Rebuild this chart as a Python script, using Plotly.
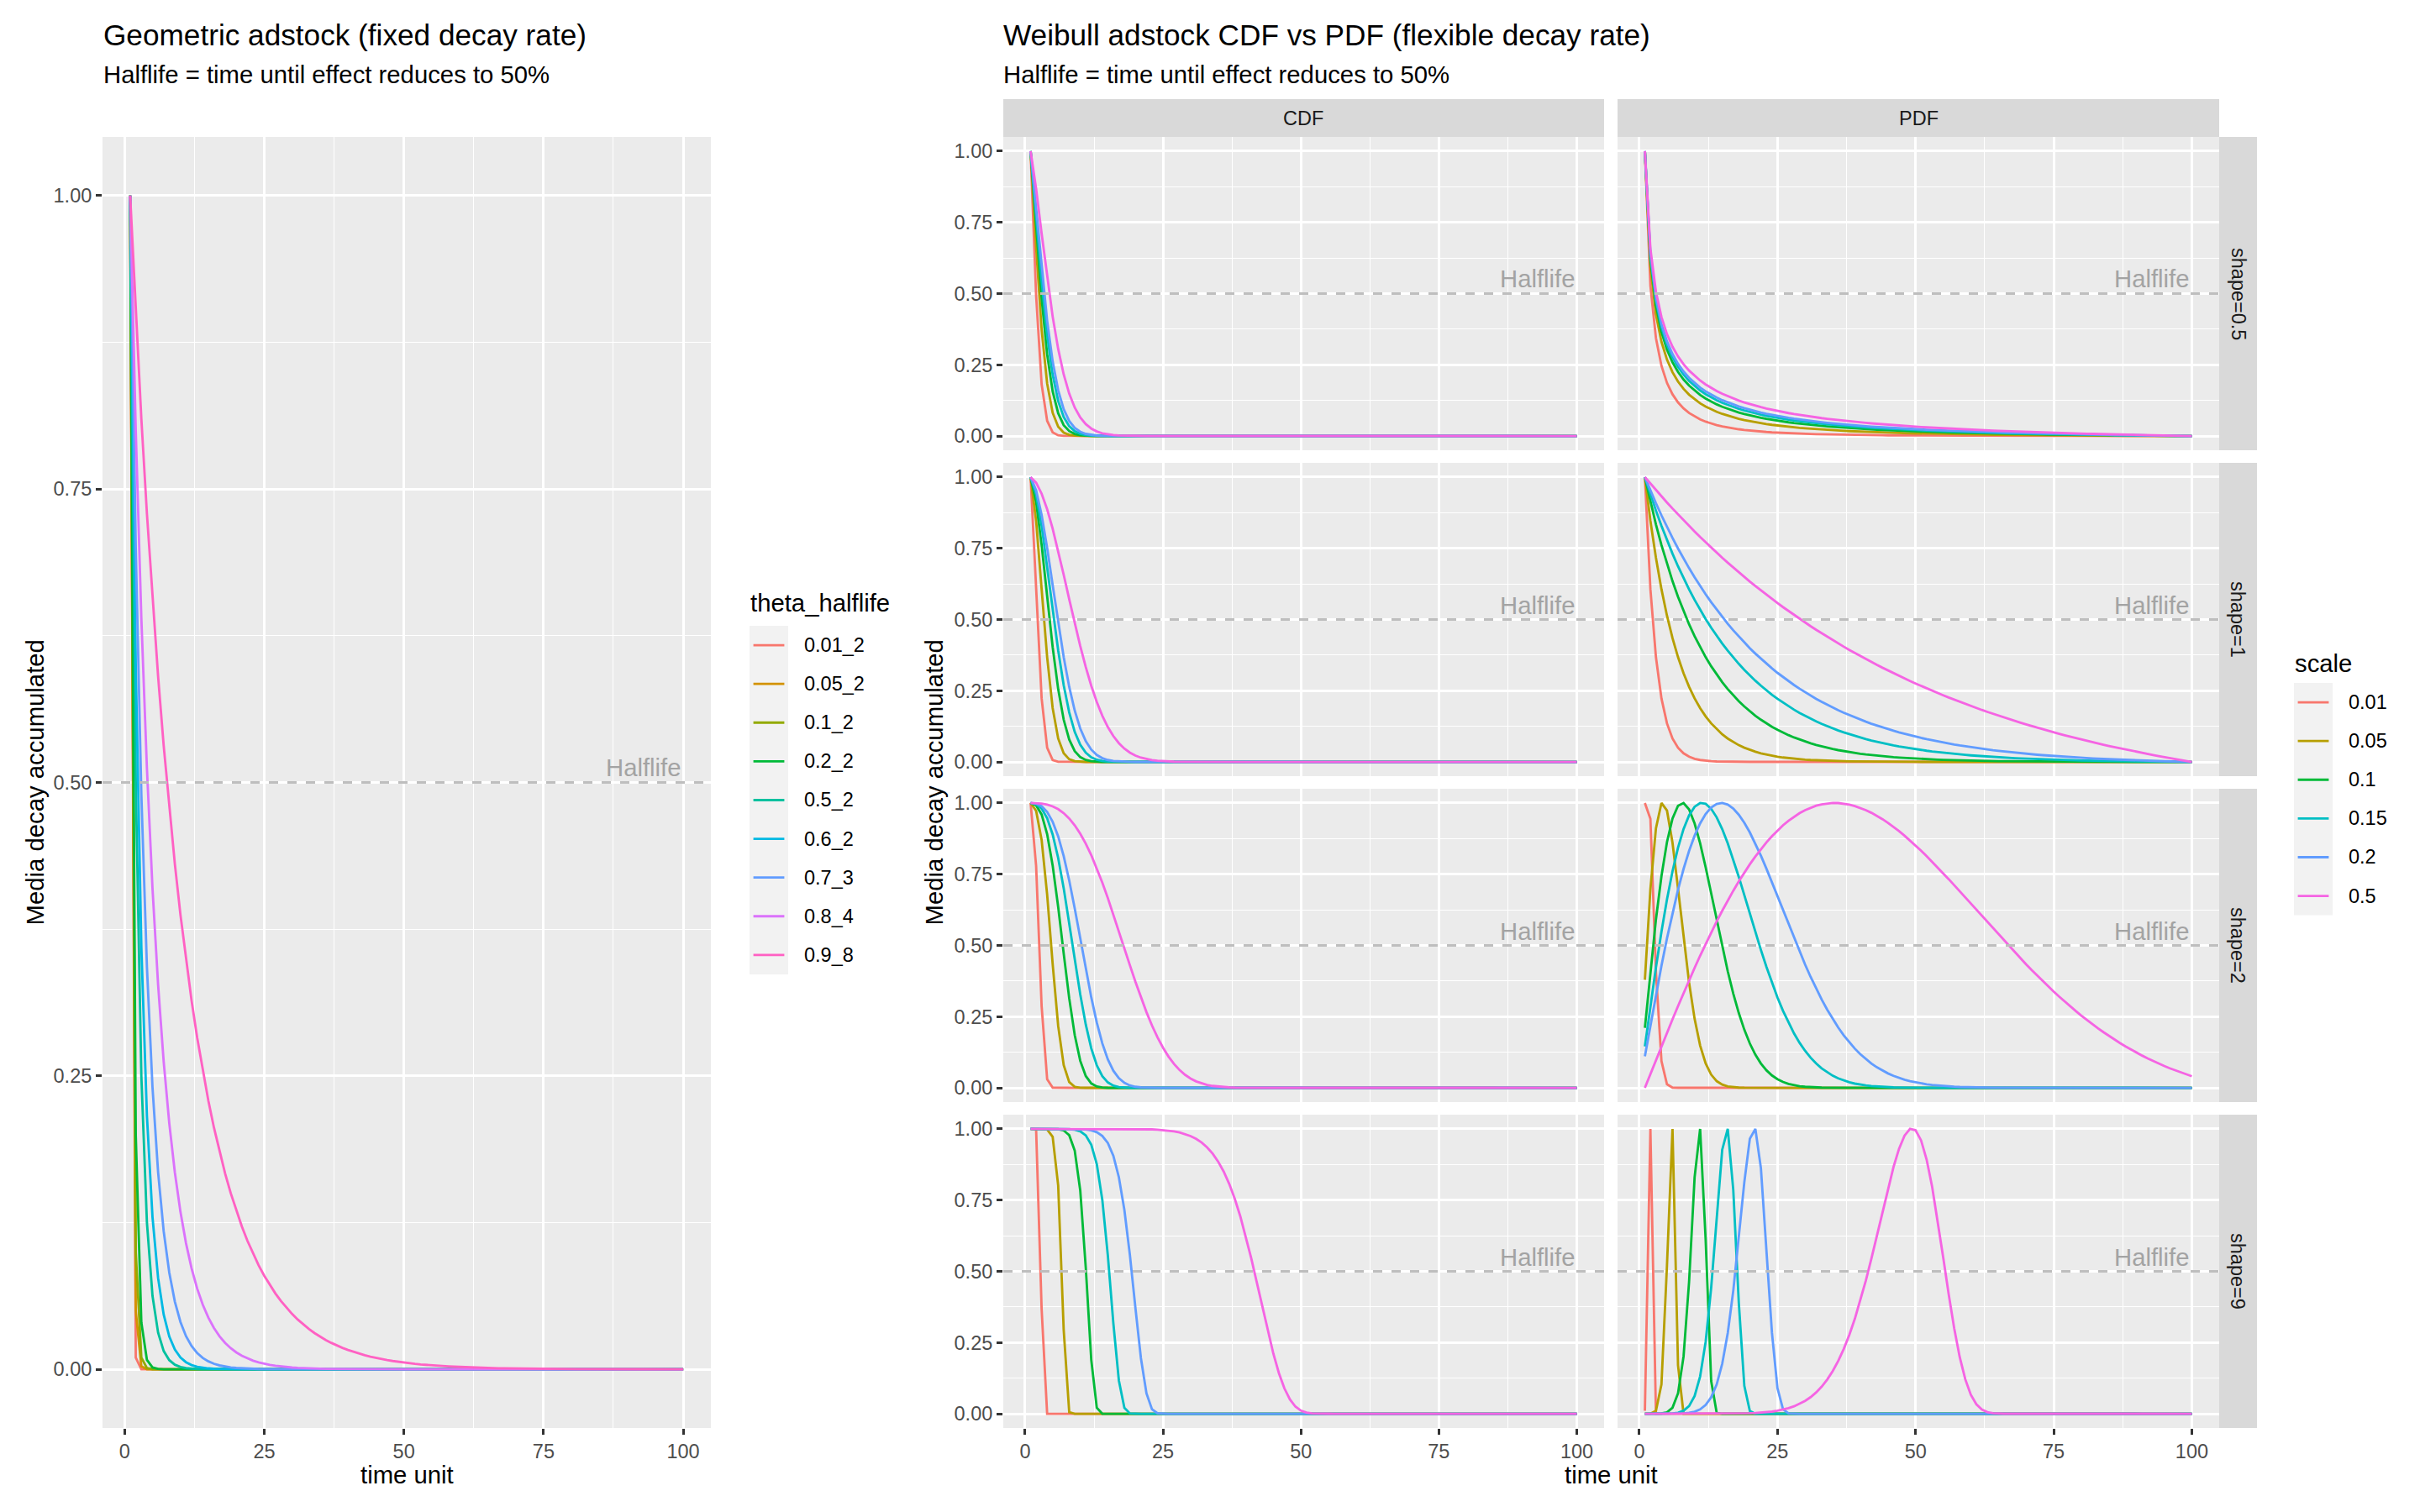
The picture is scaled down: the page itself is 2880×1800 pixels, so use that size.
import numpy as np
import plotly.graph_objects as go

# ---------------- data (parameters) ----------------
time_unit = list(range(1, 101))
theta_values = [0.01, 0.05, 0.1, 0.2, 0.5, 0.6, 0.7, 0.8, 0.9]
theta_halflife_labels = ["0.01_2", "0.05_2", "0.1_2", "0.2_2", "0.5_2",
                         "0.6_2", "0.7_3", "0.8_4", "0.9_8"]
shape_values = [0.5, 1, 2, 9]
shape_labels = ["shape=0.5", "shape=1", "shape=2", "shape=9"]
scale_values = [0.01, 0.05, 0.1, 0.15, 0.2, 0.5]
scale_labels = ["0.01", "0.05", "0.1", "0.15", "0.2", "0.5"]
types = ["CDF", "PDF"]
x_ticks = [0, 25, 50, 75, 100]
y_ticks = [0, 0.25, 0.5, 0.75, 1.0]
halflife_level = 0.5

geo_colors = ["#F8766D", "#D39200", "#93AA00", "#00BA38", "#00C19F",
              "#00B9E3", "#619CFF", "#DB72FB", "#FF61C3"]
wb_colors = ["#F8766D", "#B79F00", "#00BA38", "#00BFC4", "#619CFF", "#F564E3"]

# ---------------- model curves (geometric / Weibull adstock) ----------------
x = np.array(time_unit, dtype=float)


def geometric(theta):
    return theta ** (x - 1)


def weibull(shape, scale, kind):
    lam = np.round(np.quantile(x, scale))
    if kind == "CDF":
        th = np.concatenate([[1.0], np.exp(-(x[:-1] / lam) ** shape)])
        return np.cumprod(th)
    d = (shape / lam) * (x / lam) ** (shape - 1) * np.exp(-(x / lam) ** shape)
    return (d - d.min()) / (d.max() - d.min())


W, H = 2880, 1800
FONT = "Liberation Sans, Arial, Helvetica, sans-serif"
PANEL_BG = "#EBEBEB"
STRIP_BG = "#D9D9D9"
LW = 2.85


def px(v):
    return v / W


def py(v):
    return 1 - v / H


fig = go.Figure()
shapes = []
annotations = []

axis_common = dict(
    range=[-3.95, 104.95], showgrid=True, gridcolor="white", gridwidth=LW,
    zeroline=False, showline=False, tickvals=x_ticks,
    ticks="outside", ticklen=7, tickwidth=LW, tickcolor="#333333",
    tickfont=dict(size=23.5, color="#4D4D4D", family=FONT),
    minor=dict(dtick=12.5, tick0=0, showgrid=True, gridcolor="white", gridwidth=1.42),
    fixedrange=True,
)
yaxis_common = dict(
    range=[-0.05, 1.05], showgrid=True, gridcolor="white", gridwidth=LW,
    zeroline=False, showline=False, tickvals=y_ticks,
    ticktext=[f"{v:.2f}" for v in y_ticks],
    ticks="outside", ticklen=7, tickwidth=LW, tickcolor="#333333",
    tickfont=dict(size=23.5, color="#4D4D4D", family=FONT),
    minor=dict(dtick=0.125, tick0=0, showgrid=True, gridcolor="white", gridwidth=1.42),
    fixedrange=True,
)

layout_axes = {}

# ---------------- left panel: geometric ----------------
layout_axes["xaxis"] = dict(axis_common, domain=[px(122), px(846)], anchor="y")
layout_axes["yaxis"] = dict(yaxis_common, domain=[py(1700), py(163)], anchor="x")
for th, lab, col in zip(theta_values, theta_halflife_labels, geo_colors):
    fig.add_trace(go.Scatter(x=time_unit, y=geometric(th), mode="lines",
                             line=dict(color=col, width=LW), name=lab,
                             showlegend=False, xaxis="x", yaxis="y",
                             hoverinfo="skip"))
shapes.append(dict(type="line", xref="x domain", yref="y", x0=0, x1=1,
                   y0=halflife_level, y1=halflife_level,
                   line=dict(color="#BEBEBE", width=LW, dash="11px,11px")))
annotations.append(dict(text="Halflife", xref="x", yref="y", x=100, y=halflife_level,
                        xanchor="right", yanchor="bottom", showarrow=False, yshift=-1,
                        font=dict(size=29.3, color="#A3A3A3", family=FONT)))

# ---------------- right facets: Weibull ----------------
col_x = [(1194, 1909), (1925, 2641)]
row_y = [(163 + r * 388, 163 + r * 388 + 373) for r in range(4)]

for r, (shp, slab) in enumerate(zip(shape_values, shape_labels)):
    for c, kind in enumerate(types):
        n = 2 + r * 2 + c
        xa, ya = f"x{n}", f"y{n}"
        xd = dict(axis_common, domain=[px(col_x[c][0]), px(col_x[c][1])], anchor=ya)
        yd = dict(yaxis_common, domain=[py(row_y[r][1]), py(row_y[r][0])], anchor=xa)
        if r < 3:
            xd.update(showticklabels=False, ticks="")
        if c == 1:
            yd.update(showticklabels=False, ticks="")
        layout_axes[f"xaxis{n}"] = xd
        layout_axes[f"yaxis{n}"] = yd
        for sc, lab, col in zip(scale_values, scale_labels, wb_colors):
            fig.add_trace(go.Scatter(x=time_unit, y=weibull(shp, sc, kind), mode="lines",
                                     line=dict(color=col, width=LW), name=lab,
                                     showlegend=False, xaxis=xa, yaxis=ya,
                                     hoverinfo="skip"))
        shapes.append(dict(type="line", xref=f"{xa} domain", yref=ya, x0=0, x1=1,
                           y0=halflife_level, y1=halflife_level,
                           line=dict(color="#BEBEBE", width=LW, dash="11px,11px")))
        annotations.append(dict(text="Halflife", xref=xa, yref=ya, x=100, y=halflife_level,
                                xanchor="right", yanchor="bottom", showarrow=False, yshift=-1,
                                font=dict(size=29.3, color="#A3A3A3", family=FONT)))
    # right strip
    shapes.append(dict(type="rect", xref="paper", yref="paper", x0=px(2641), x1=px(2686),
                       y0=py(row_y[r][1]), y1=py(row_y[r][0]), fillcolor=STRIP_BG,
                       line=dict(width=0), layer="below"))
    annotations.append(dict(text=slab, xref="paper", yref="paper", x=px(2663.5),
                            y=py((row_y[r][0] + row_y[r][1]) / 2), textangle=90,
                            xanchor="center", yanchor="middle", showarrow=False,
                            font=dict(size=23.5, color="#1A1A1A", family=FONT)))

# top strips
for c, kind in enumerate(types):
    shapes.append(dict(type="rect", xref="paper", yref="paper", x0=px(col_x[c][0]),
                       x1=px(col_x[c][1]), y0=py(163), y1=py(118), fillcolor=STRIP_BG,
                       line=dict(width=0), layer="below"))
    annotations.append(dict(text=kind, xref="paper", yref="paper",
                            x=px((col_x[c][0] + col_x[c][1]) / 2), y=py(141),
                            xanchor="center", yanchor="middle", showarrow=False,
                            font=dict(size=23.5, color="#1A1A1A", family=FONT)))

# ---------------- titles and axis titles ----------------
def text_ann(t, xp, yp, size, xanchor="left", angle=0, color="black"):
    annotations.append(dict(text=t, xref="paper", yref="paper", x=px(xp), y=py(yp),
                            xanchor=xanchor, yanchor="middle", showarrow=False,
                            textangle=angle,
                            font=dict(size=size, color=color, family=FONT)))


text_ann("Geometric adstock (fixed decay rate)", 121, 41, 35.2)
text_ann("Halflife = time until effect reduces to 50%", 121, 89, 29.3)
text_ann("Weibull adstock CDF vs PDF (flexible decay rate)", 1192, 41, 35.2)
text_ann("Halflife = time until effect reduces to 50%", 1192, 89, 29.3)
text_ann("time unit", 484, 1755, 29.3, xanchor="center")
text_ann("time unit", 1917.5, 1755, 29.3, xanchor="center")
text_ann("Media decay accumulated", 41, 931.5, 29.3, xanchor="center", angle=-90)
text_ann("Media decay accumulated", 1111, 931.5, 29.3, xanchor="center", angle=-90)

# ---------------- legends (ggplot style) ----------------
def draw_legend(title, labels, colors, left, title_y, top, key=46.1):
    text_ann(title, left - 1, title_y, 29.3)
    shapes.append(dict(type="rect", xref="paper", yref="paper", x0=px(left),
                       x1=px(left + 46), y0=py(top + key * len(labels)), y1=py(top),
                       fillcolor="#F2F2F2", line=dict(width=0), layer="below"))
    for i, (lab, col) in enumerate(zip(labels, colors)):
        cy = top + key * (i + 0.5)
        shapes.append(dict(type="line", xref="paper", yref="paper", x0=px(left + 4.6),
                           x1=px(left + 41.4), y0=py(cy), y1=py(cy),
                           line=dict(color=col, width=LW)))
        text_ann(lab, left + 63, cy, 23.5)


draw_legend("theta_halflife", theta_halflife_labels, geo_colors, 892, 717, 745)
draw_legend("scale", scale_labels, wb_colors, 2730, 789, 813)

fig.update_layout(
    width=W, height=H, autosize=False,
    margin=dict(l=0, r=0, t=0, b=0),
    paper_bgcolor="white", plot_bgcolor=PANEL_BG,
    font=dict(family=FONT),
    showlegend=False,
    shapes=shapes, annotations=annotations,
    **layout_axes,
)

fig.write_html("out.html", config={"displayModeBar": False},
               post_script="document.body.style.margin='0';document.body.style.padding='0';")
